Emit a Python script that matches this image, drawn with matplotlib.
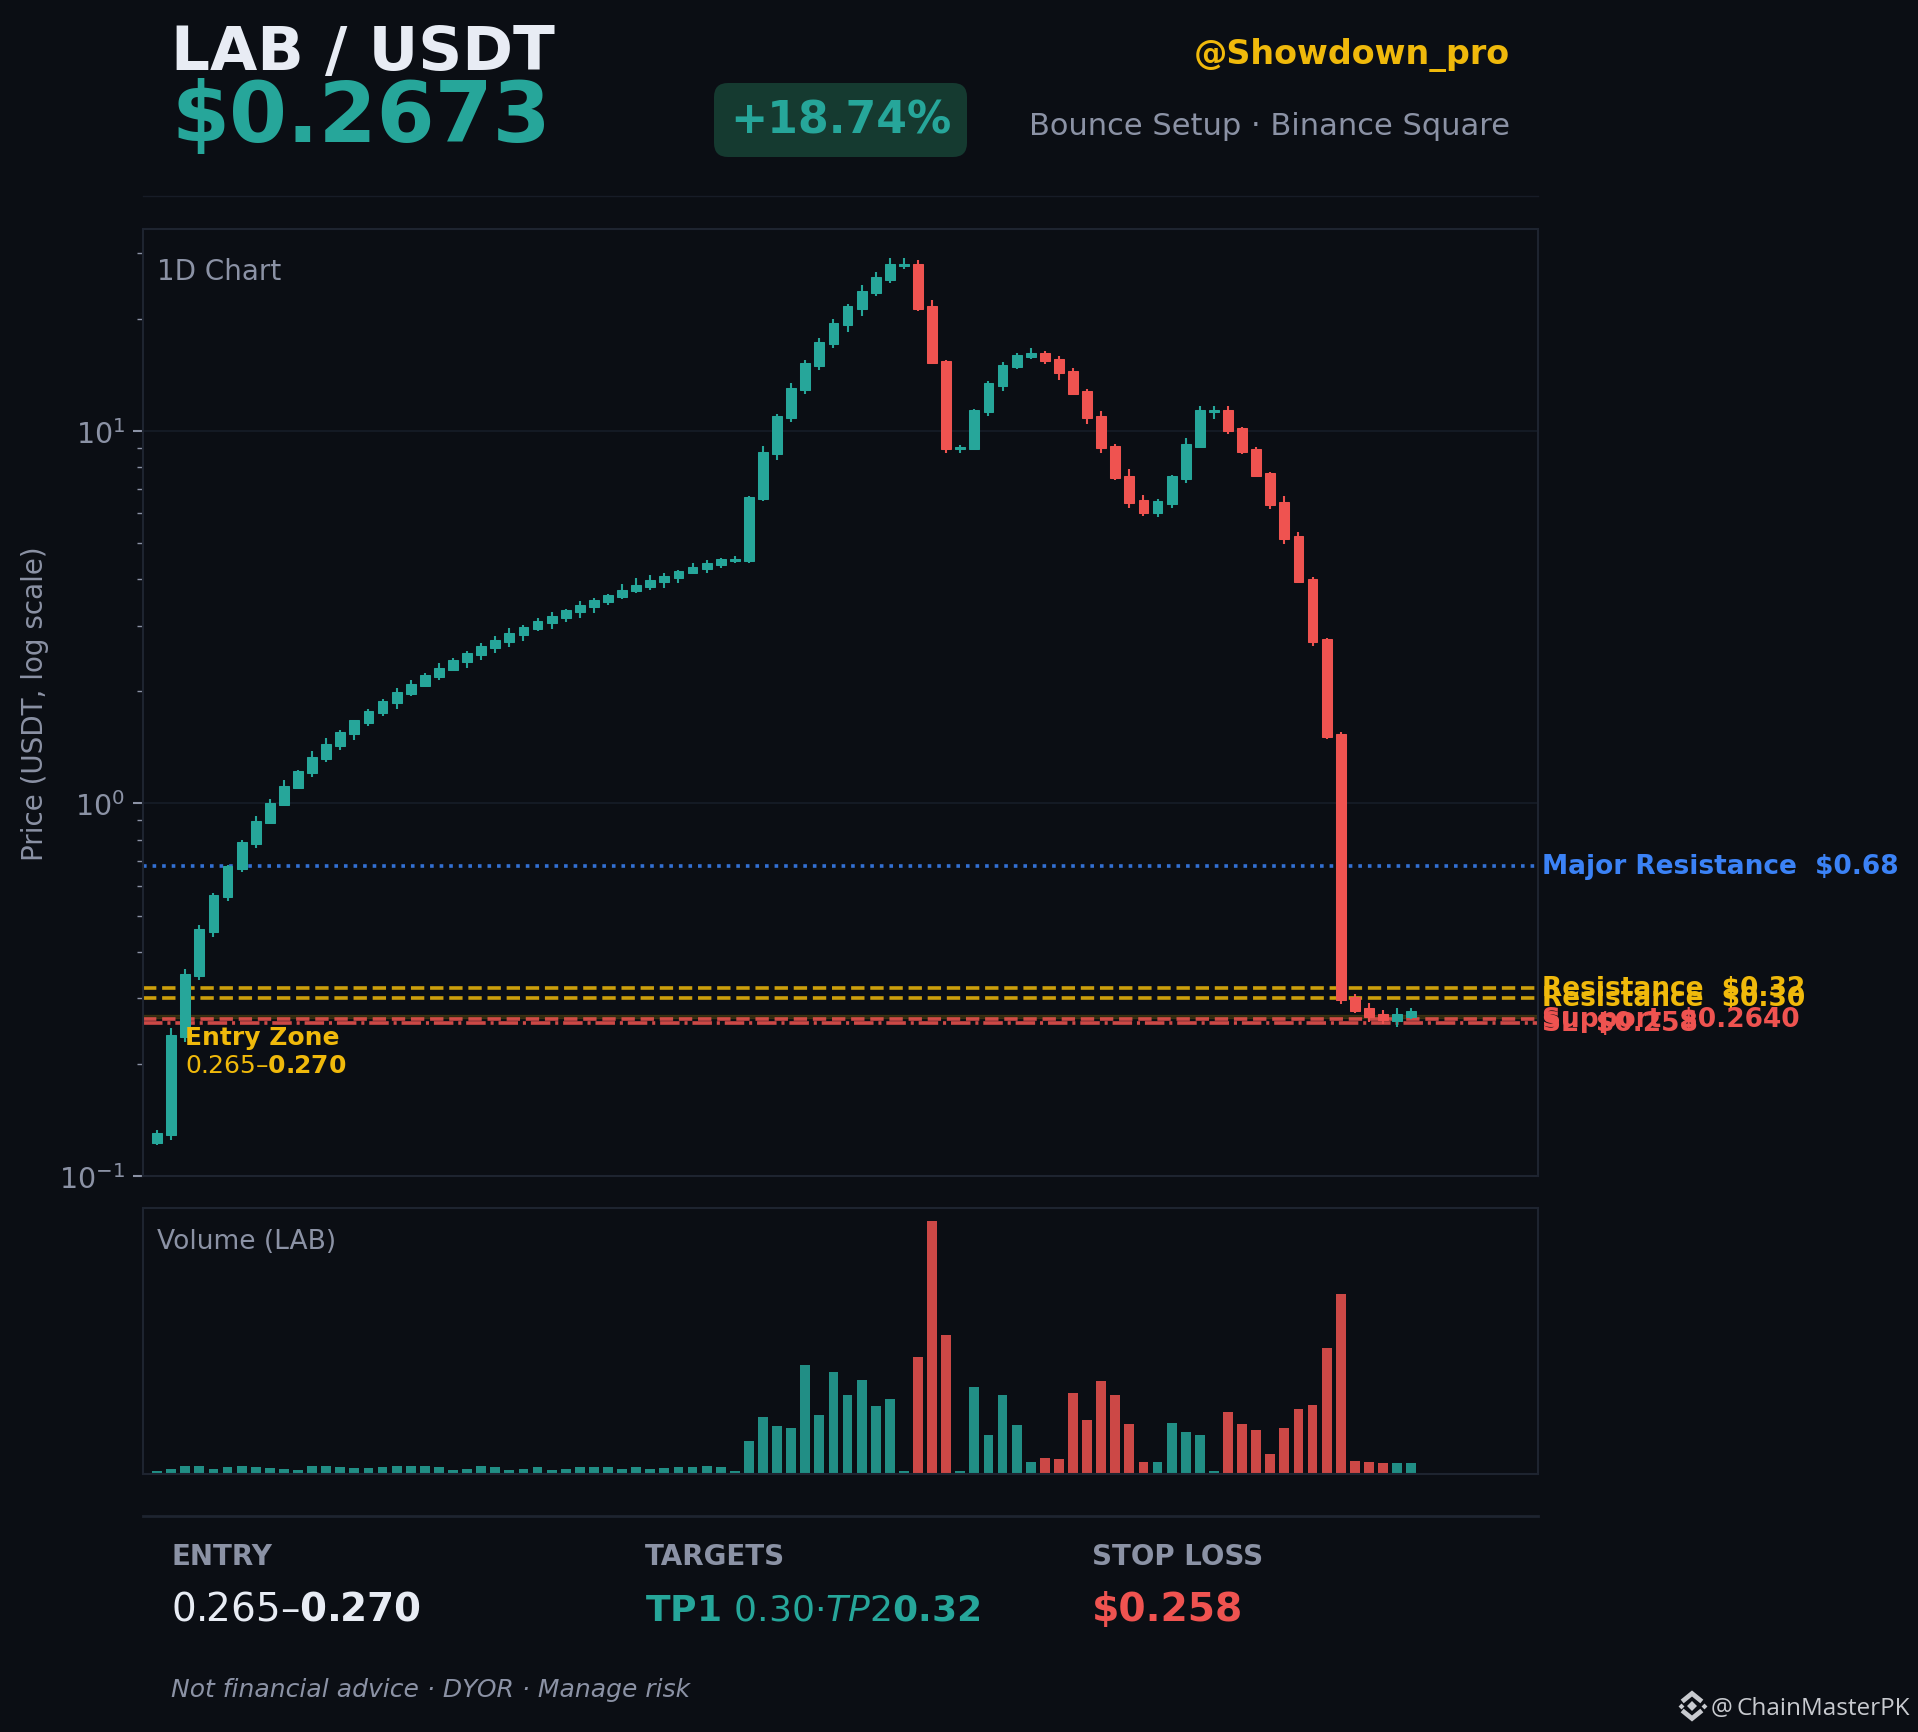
#!/usr/bin/env python3
import numpy as np
import matplotlib
matplotlib.use("Agg")
import matplotlib.pyplot as plt
from matplotlib.lines import Line2D
from matplotlib.patches import FancyBboxPatch
from matplotlib.transforms import IdentityTransform, blended_transform_factory

W, H = 1918, 1733

BG = "#0b0e14"
SPINE = "#1e2430"
GRID = "#141a24"
MUTED = "#8b92a5"
UP = "#26a69a"
DOWN = "#ef5350"
GOLD = "#f0b90b"
BLUE = "#3b82f6"
WHITE = "#e8ecf4"

# Daily candles
opens = [
    0.1226, 0.1288, 0.2361, 0.3441, 0.4516, 0.5606, 0.6665, 0.7779, 0.8837, 0.9877,
    1.097, 1.206, 1.315, 1.425, 1.535, 1.643, 1.747, 1.859, 1.961, 2.060,
    2.183, 2.274, 2.390, 2.495, 2.611, 2.710, 2.829, 2.930, 3.041, 3.136,
    3.261, 3.364, 3.469, 3.578, 3.706, 3.799, 3.918, 4.016, 4.142, 4.245,
    4.352, 4.470, 4.461, 6.543, 8.640, 10.79, 12.83, 14.97, 17.05, 19.17,
    21.29, 23.36, 25.47, 27.72, 28.00, 21.60, 15.38, 8.929, 8.911, 11.20,
    13.23, 14.79, 15.73, 16.16, 15.57, 14.46, 12.78, 10.95, 9.096, 7.542,
    6.503, 6.025, 6.370, 7.434, 9.058, 11.20, 11.34, 10.15, 8.911, 7.683,
    6.422, 5.206, 3.991, 2.755, 1.532, 0.3023, 0.2818, 0.2715, 0.2600, 0.2666,
]
closes = [
    0.1307, 0.2395, 0.3491, 0.4591, 0.5688, 0.6790, 0.7891, 0.8984, 1.004, 1.115,
    1.224, 1.334, 1.446, 1.557, 1.670, 1.773, 1.886, 1.994, 2.094, 2.214,
    2.312, 2.429, 2.537, 2.649, 2.749, 2.870, 2.979, 3.091, 3.188, 3.308,
    3.412, 3.519, 3.630, 3.744, 3.854, 3.975, 4.074, 4.202, 4.307, 4.415,
    4.525, 4.525, 6.638, 8.765, 10.95, 13.02, 15.19, 17.29, 19.45, 21.60,
    23.70, 25.84, 28.00, 28.00, 21.29, 15.16, 8.911, 9.040, 11.36, 13.42,
    15.00, 15.96, 16.16, 15.35, 14.25, 12.59, 10.79, 8.966, 7.449, 6.409,
    6.025, 6.462, 7.542, 9.191, 11.34, 11.34, 10.00, 8.783, 7.573, 6.330,
    5.131, 3.934, 2.715, 1.510, 0.2962, 0.2772, 0.2666, 0.2617, 0.2715, 0.2766,
]
highs = [
    0.1332, 0.2501, 0.3601, 0.4725, 0.5758, 0.6832, 0.7956, 0.9266, 1.029, 1.153,
    1.231, 1.385, 1.494, 1.576, 1.677, 1.795, 1.909, 2.035, 2.147, 2.242,
    2.385, 2.449, 2.568, 2.698, 2.818, 2.960, 3.016, 3.149, 3.268, 3.329,
    3.498, 3.563, 3.652, 3.885, 4.024, 4.100, 4.150, 4.228, 4.415, 4.498,
    4.553, 4.610, 6.665, 9.096, 11.08, 13.42, 15.47, 17.73, 19.94, 21.87,
    24.60, 26.65, 29.06, 29.06, 28.70, 22.42, 15.47, 9.152, 11.43, 13.59,
    15.28, 16.16, 16.66, 16.36, 15.86, 14.73, 12.94, 11.29, 9.209, 7.875,
    6.706, 6.543, 7.588, 9.537, 11.69, 11.69, 11.69, 10.21, 9.021, 7.731,
    6.665, 5.336, 4.041, 2.772, 1.551, 0.3073, 0.2906, 0.2784, 0.2818, 0.2818,
]
lows = [
    0.1211, 0.1247, 0.2289, 0.3350, 0.4370, 0.5469, 0.6543, 0.7588, 0.8800, 0.9857,
    1.093, 1.174, 1.288, 1.387, 1.476, 1.613, 1.715, 1.787, 1.937, 2.052,
    2.138, 2.265, 2.303, 2.419, 2.526, 2.622, 2.721, 2.894, 2.930, 3.060,
    3.136, 3.234, 3.398, 3.527, 3.660, 3.729, 3.775, 3.894, 4.116, 4.142,
    4.272, 4.406, 4.406, 6.462, 8.325, 10.59, 12.59, 14.52, 16.73, 18.47,
    20.39, 23.07, 24.85, 27.10, 21.03, 15.07, 8.694, 8.711, 8.874, 10.99,
    12.75, 14.61, 15.54, 15.07, 13.65, 12.44, 10.46, 8.694, 7.357, 6.214,
    5.915, 5.878, 6.214, 7.252, 9.003, 10.77, 9.817, 8.675, 7.526, 6.176,
    4.975, 3.910, 2.649, 1.491, 0.2889, 0.2738, 0.2590, 0.2558, 0.2511, 0.2633,
]
# Volume in arbitrary units, the picture has no scale for it
volumes = [
    1.0, 1.6, 2.5, 2.5, 1.6, 2.2, 2.5, 2.2, 1.9, 1.6,
    1.3, 2.5, 2.5, 2.2, 1.9, 1.9, 2.2, 2.5, 2.5, 2.5,
    2.2, 1.3, 1.6, 2.5, 2.2, 1.3, 1.6, 2.2, 1.3, 1.6,
    2.2, 2.2, 2.2, 1.6, 2.2, 1.6, 1.9, 2.2, 2.2, 2.5,
    2.2, 1.0, 10.0, 17.2, 14.5, 13.9, 32.8, 17.8, 30.7, 23.8,
    28.3, 20.5, 22.6, 1.0, 35.2, 76.0, 41.8, 1.0, 26.2, 11.8,
    23.8, 14.8, 3.7, 4.9, 4.6, 24.4, 16.3, 28.0, 23.8, 15.1,
    3.7, 3.7, 15.4, 12.7, 11.8, 1.0, 18.7, 15.1, 13.3, 6.1,
    13.9, 19.6, 20.8, 37.9, 54.1, 4.0, 3.7, 3.4, 3.4, 3.4,
]

entry_low, entry_high = 0.265, 0.270
major_resistance = 0.68
resistance_levels = [0.32, 0.30]
support_level = 0.2640
stop_level = 0.258


def fx(px):
    return px / W


def fy(py):
    return 1 - py / H


def put(px, py, s, **kw):
    kw.setdefault("va", "baseline")
    fig.text(fx(px), fy(py), s, **kw)


def rule(x0, x1, y, color, lw):
    fig.add_artist(Line2D([fx(x0), fx(x1)], [fy(y), fy(y)], color=color, lw=lw))


fig = plt.figure(figsize=(W / 100, H / 100), dpi=100, facecolor=BG)

left, right = 143, 1538
ax = fig.add_axes([fx(left), fy(1177), fx(right - left), (1177 - 230) / H], facecolor=BG)
vax = fig.add_axes([fx(left), fy(1475), fx(right - left), (1475 - 1209) / H], facecolor=BG)

x = np.arange(len(opens))
o = np.array(opens)
c = np.array(closes)
colors = [UP if b >= a else DOWN for a, b in zip(o, c)]

# Price panel
ax.set_yscale("log")
ax.vlines(x, lows, highs, colors=colors, lw=1.5, zorder=3)
ax.bar(x, np.abs(c - o), bottom=np.minimum(o, c), width=0.7, color=colors,
       edgecolor=colors, linewidth=0.75, zorder=4)

ax.axhspan(entry_low, entry_high, color=GOLD, alpha=0.15, lw=1, zorder=1)
ax.axhline(major_resistance, color=BLUE, ls=":", lw=2.6, alpha=0.85, zorder=2)
for lvl in resistance_levels:
    ax.axhline(lvl, color=GOLD, ls="--", lw=2.6, alpha=0.85, zorder=2)
ax.axhline(stop_level, color=DOWN, ls=(0, (5.4, 1.35, 0.85, 1.35)), lw=2.6, alpha=0.85, zorder=2)
ax.axhline(support_level, color=DOWN, ls="--", lw=2.6, alpha=0.85, zorder=2)

ax.set_xlim(-1, 98)
ax.set_ylim(0.1, 34.8)
ax.set_xticks([])
ax.grid(True, which="major", axis="y", color=GRID, lw=1.5, zorder=0)
ax.set_axisbelow(True)
ax.tick_params(axis="y", which="major", colors=MUTED, labelsize=20.5, length=7, width=1.5, pad=6)
ax.tick_params(axis="y", which="minor", colors=MUTED, length=4, width=1)
ax.set_ylabel("Price (USDT, log scale)", color=MUTED, fontsize=20)
ax.yaxis.set_label_coords((49 - left) / (right - left), 0.5)

ax.text(0.0102, 0.970, "1D Chart", transform=ax.transAxes, color=MUTED, fontsize=20, va="top")
ax.text(2, 0.2545, "Entry Zone\n$0.265–$0.270", color=GOLD, fontsize=18, fontweight="bold",
        va="top", ha="left", zorder=5)

# Level labels sit just outside the right spine
lbl = blended_transform_factory(ax.transAxes, ax.transData)
labels = [
    (major_resistance, "Major Resistance  $0.68", BLUE),
    (resistance_levels[0], "Resistance  $0.32", GOLD),
    (resistance_levels[1], "Resistance  $0.30", GOLD),
    (support_level, "Support  $0.2640", DOWN),
    (stop_level, "SL  $0.258", DOWN),
]
for lvl, s, col in labels:
    ax.text(1.0028, lvl, s, transform=lbl, color=col, fontsize=19, fontweight="bold",
            va="center", ha="left", clip_on=False)

# Volume panel
vax.bar(x, volumes, width=0.7, color=colors, alpha=0.85, lw=0)
vax.set_xlim(-1, 98)
vax.set_ylim(0, max(volumes) * 1.05)
vax.set_xticks([])
vax.set_yticks([])
vax.text(0.0102, 0.925, "Volume (LAB)", transform=vax.transAxes, color=MUTED, fontsize=19.1, va="top")

for a in (ax, vax):
    for sp in a.spines.values():
        sp.set_color(SPINE)
        sp.set_linewidth(1.5)

# Header
put(171, 70.5, "LAB / USDT", color=WHITE, fontsize=44, fontweight="bold")
put(171, 141.5, "$0.2673", color=UP, fontsize=60, fontweight="bold")
fig.add_artist(FancyBboxPatch((714, H - 158), 253, 74, boxstyle="round,pad=0,rounding_size=14",
                              transform=IdentityTransform(), facecolor="#153a30", edgecolor="none"))
put(841, 134, "+18.74%", color=UP, fontsize=31.9, fontweight="bold", ha="center")
put(1510, 64.5, "@Showdown_pro", color=GOLD, fontsize=24, fontweight="bold", ha="right")
put(1510, 135, "Bounce Setup · Binance Square", color=MUTED, fontsize=22, ha="right")
rule(left, right, 197, "#171c27", 1)

# Footer summary
rule(left, right, 1517, SPINE, 2)
put(171, 1565.5, "ENTRY", color=MUTED, fontsize=20, fontweight="bold")
put(645, 1565.5, "TARGETS", color=MUTED, fontsize=20, fontweight="bold")
put(1092, 1565.5, "STOP LOSS", color=MUTED, fontsize=20, fontweight="bold")
put(171, 1621, "$0.265–$0.270", color=WHITE, fontsize=28, fontweight="bold")
put(645, 1621, "TP1 $0.30 · TP2 $0.32", color=UP, fontsize=26, fontweight="bold")
put(1092, 1621, "$0.258", color=DOWN, fontsize=28.3, fontweight="bold")
put(171, 1697, "Not financial advice · DYOR · Manage risk", color=MUTED, fontsize=18, style="italic")

# Watermark with the small logo
WM = "#c8cacf"
put(1737, 1715, "ChainMasterPK", color=WM, fontsize=17.5, family="Open Sans")
put(1711, 1715, "@", color=WM, fontsize=17.5, family="Open Sans")
cx, cy = 1692, 1707
for dx, dy, ms in [(0, 0, 5.0), (-11.5, 0, 3.0), (11.5, 0, 3.0)]:
    fig.add_artist(Line2D([fx(cx + dx)], [fy(cy + dy)], marker="D", ms=ms, color=WM, mew=0))
for sy in (-1, 1):
    fig.add_artist(Line2D([fx(cx - 8), fx(cx), fx(cx + 8)],
                          [fy(cy + sy * 6), fy(cy + sy * 12.5), fy(cy + sy * 6)],
                          color=WM, lw=3.4, solid_joinstyle="miter"))

fig.savefig("out.png", dpi=100, facecolor=BG)
